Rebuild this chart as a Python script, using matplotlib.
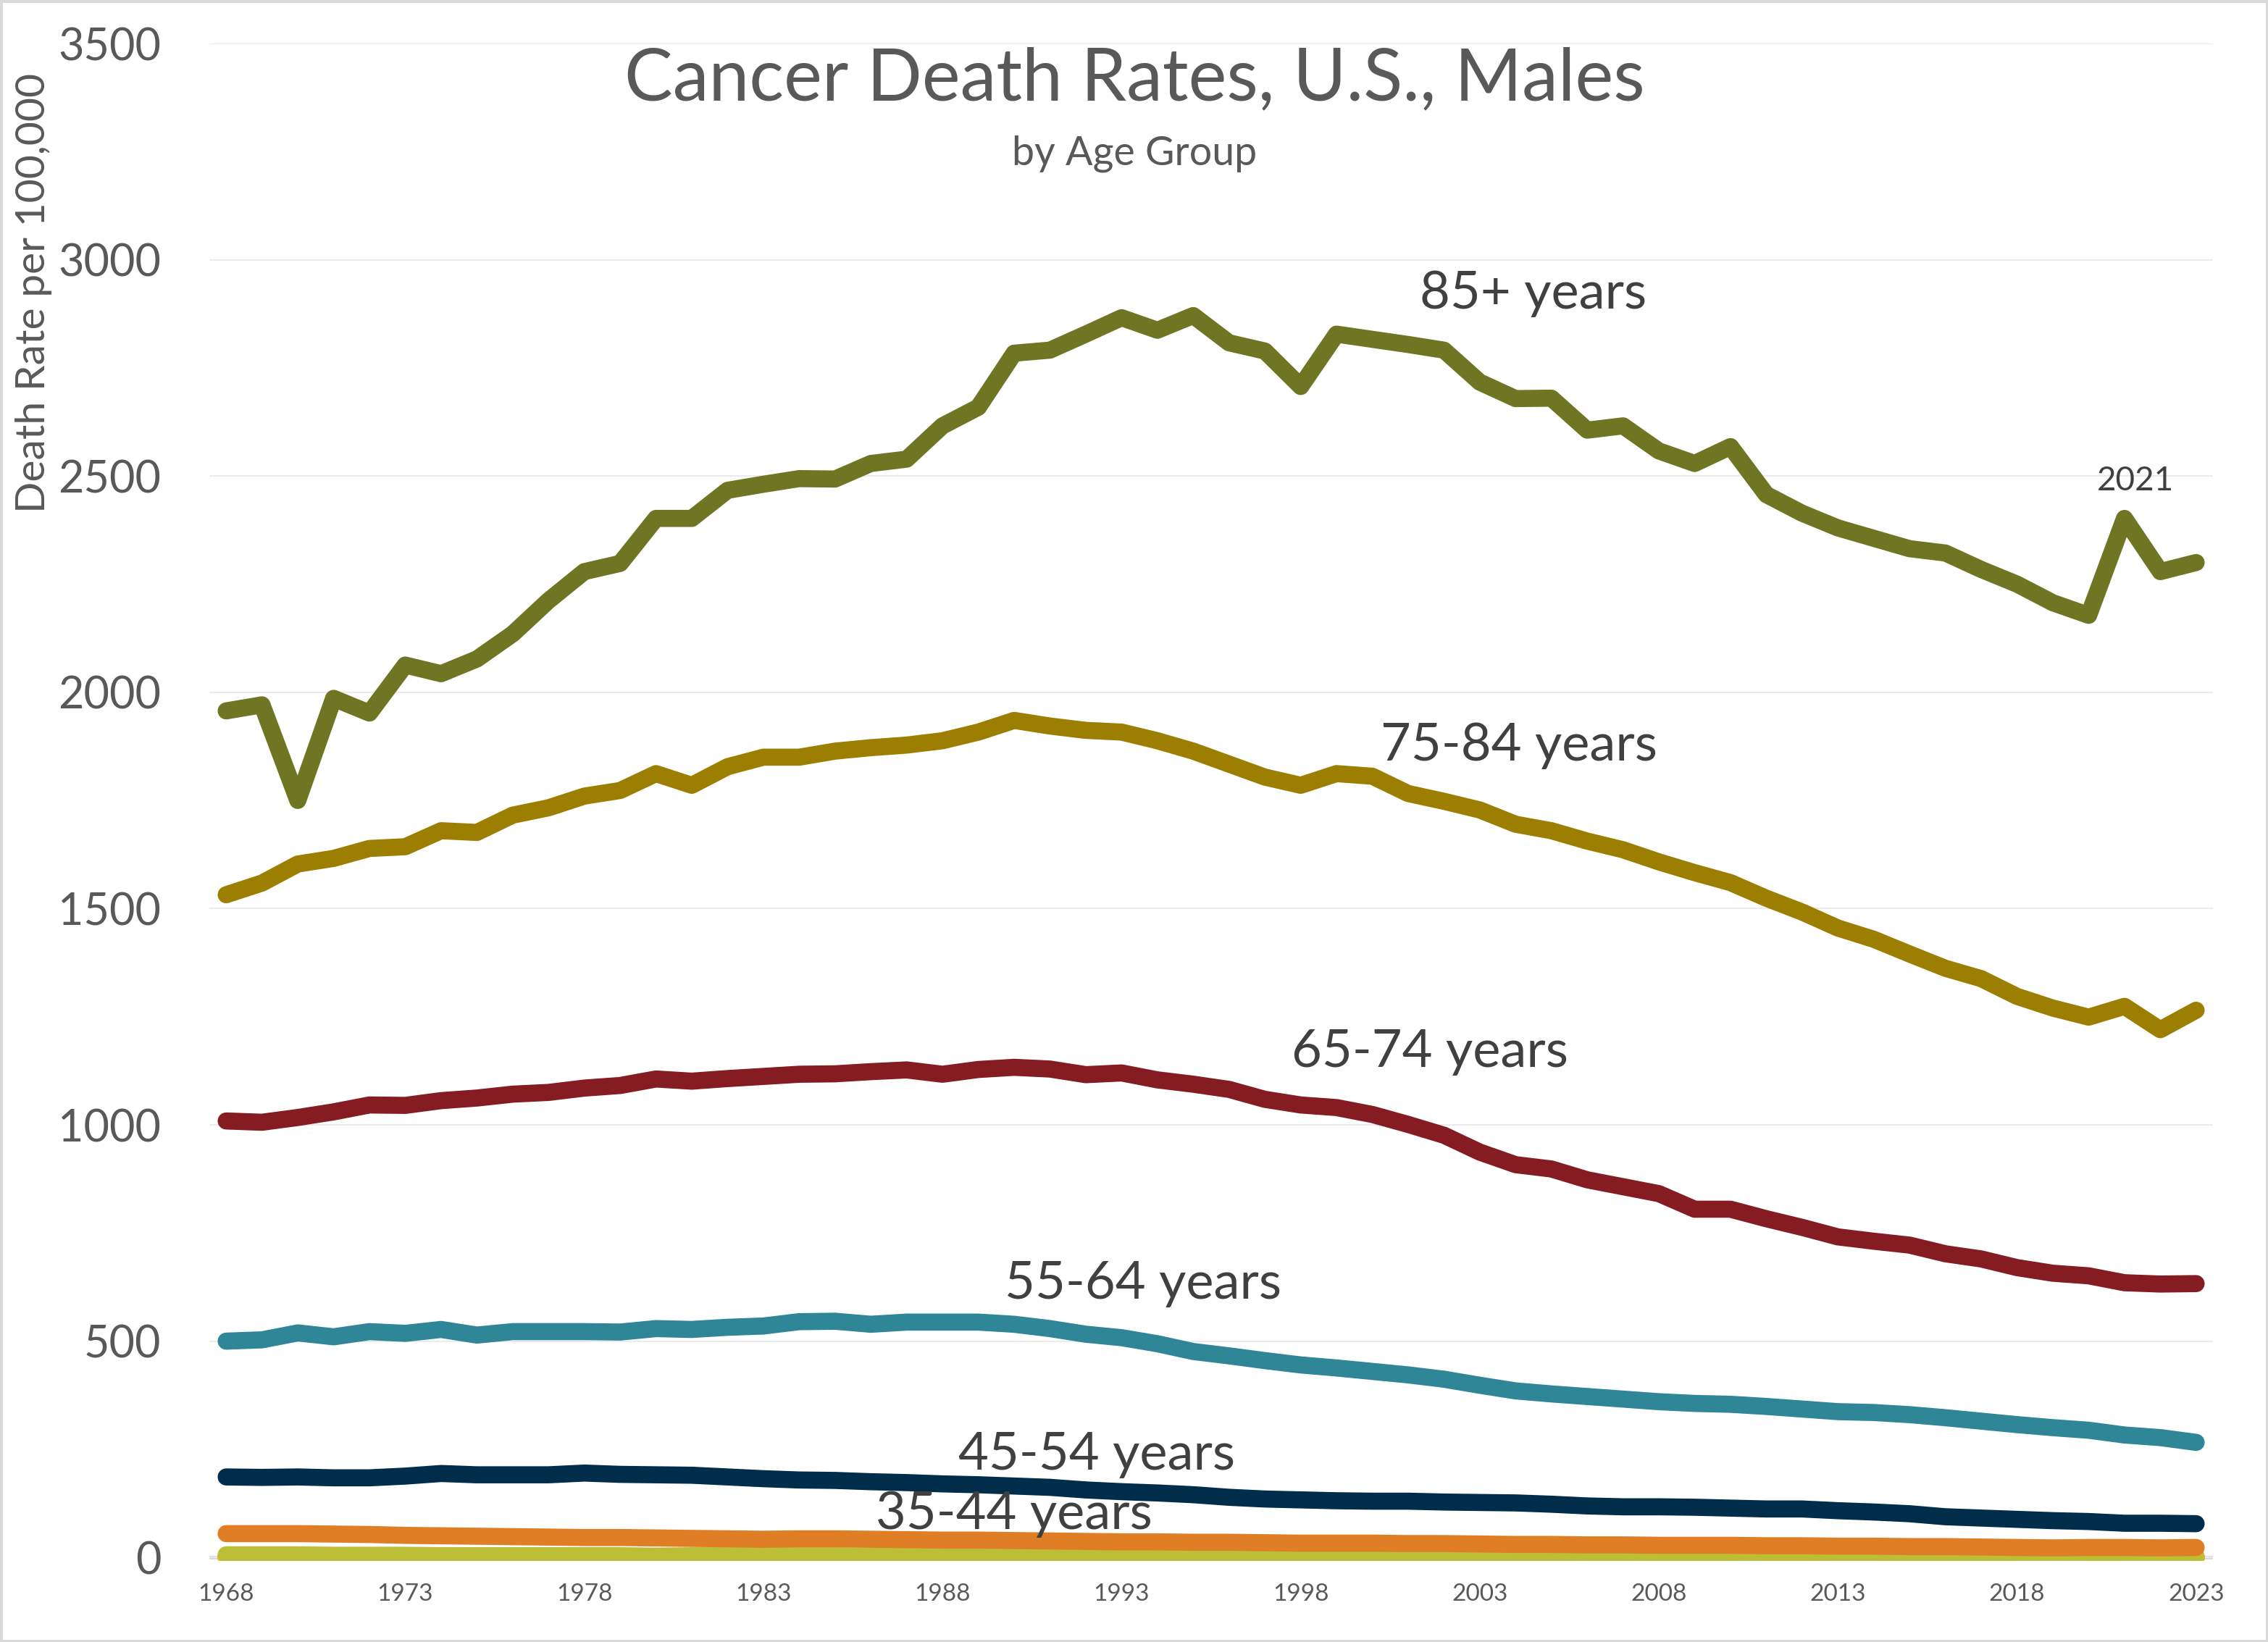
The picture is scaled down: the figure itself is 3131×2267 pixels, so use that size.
import matplotlib
matplotlib.use("Agg")
import matplotlib.pyplot as plt
from matplotlib.patches import Rectangle

plt.rcParams['font.family'] = ['Lato', 'DejaVu Sans']

years = list(range(1968, 2024))

# rates per 100,000
age_85 = [1957, 1971, 1750, 1986, 1952, 2063, 2043, 2077, 2135, 2212,
          2279, 2298, 2402, 2402, 2467, 2481, 2494, 2493, 2529, 2539,
          2616, 2659, 2784, 2791, 2828, 2866, 2837, 2871, 2808, 2789,
          2707, 2828, 2816, 2804, 2791, 2717, 2679, 2680, 2606, 2616,
          2558, 2529, 2568, 2457, 2414, 2380, 2356, 2332, 2322, 2284,
          2250, 2207, 2178, 2402, 2279, 2300]
age_75 = [1532, 1559, 1603, 1616, 1639, 1643, 1680, 1676, 1716, 1733,
          1760, 1773, 1812, 1785, 1828, 1850, 1850, 1864, 1872, 1878,
          1888, 1908, 1935, 1922, 1912, 1908, 1888, 1864, 1834, 1804,
          1785, 1812, 1806, 1766, 1748, 1728, 1695, 1680, 1656, 1636,
          1608, 1583, 1560, 1524, 1492, 1455, 1429, 1395, 1362, 1338,
          1297, 1270, 1249, 1274, 1220, 1265]
age_65 = [1009, 1006, 1017, 1030, 1046, 1045, 1056, 1062, 1071, 1075,
          1085, 1091, 1106, 1101, 1107, 1112, 1117, 1118, 1123, 1127,
          1117, 1128, 1133, 1129, 1116, 1120, 1104, 1094, 1082, 1059,
          1046, 1040, 1024, 1001, 976, 937, 908, 898, 873, 857,
          841, 805, 805, 783, 763, 741, 731, 722, 702, 690,
          670, 657, 651, 635, 632, 633]
age_55 = [500, 503, 519, 510, 522, 518, 527, 514, 522, 522,
          522, 521, 529, 527, 532, 535, 545, 546, 539, 544,
          544, 544, 539, 529, 516, 508, 494, 476, 466, 455,
          445, 438, 430, 422, 412, 398, 385, 378, 372, 366,
          360, 356, 354, 349, 343, 337, 335, 330, 323, 315,
          307, 300, 294, 283, 277, 266]
age_45 = [186, 185, 186, 184, 184, 188, 194, 191, 191, 191,
          195, 192, 191, 190, 186, 182, 179, 178, 175, 173,
          170, 168, 165, 162, 156, 152, 149, 145, 139, 135,
          133, 131, 130, 130, 128, 127, 126, 123, 119, 117,
          117, 116, 114, 112, 112, 108, 105, 101, 94, 91,
          88, 85, 83, 79, 79, 78]
age_35 = [55, 55, 55, 54, 53, 51, 50, 49, 48, 47,
          46, 46, 45, 44, 43, 42, 43, 43, 42, 41,
          40, 40, 39, 38, 37, 36, 36, 35, 35, 34,
          33, 33, 33, 32, 32, 31, 30, 30, 29, 29,
          28, 28, 28, 27, 27, 26, 26, 25, 25, 24,
          23, 22, 23, 23, 22, 23]
age_25 = [6, 6, 6, 5, 5, 5, 4, 4, 4, 4,
          4, 4, 3, 4, 4, 4, 4, 4, 3, 3,
          3, 2, 2, 2, 2, 1, 1, 1, 1, 1,
          1, 1, 1, 1, 1, 1, 1, 1, 1, 1,
          1, 1, 1, 1, 1, 1, 1, 1, 0, 0,
          0, 0, 0, 0, 0, 0]
age_15 = [1] * 56
age_5 = [0] * 56

series = [
    (age_5, '#D9312B', None),
    (age_15, '#FFCC00', None),
    (age_25, '#BCBF35', None),
    (age_35, '#E07E26', '35-44 years'),
    (age_45, '#002D4A', '45-54 years'),
    (age_55, '#2E8697', '55-64 years'),
    (age_65, '#841C21', '65-74 years'),
    (age_75, '#9C7E00', '75-84 years'),
    (age_85, '#6E7623', '85+ years'),
]

label_pos = {
    '85+ years': (2004.5, 2921),
    '75-84 years': (2004.1, 1876),
    '65-74 years': (2001.6, 1169),
    '55-64 years': (1993.6, 633),
    '45-54 years': (1992.3, 238),
    '35-44 years': (1990.0, 100),
}

fig = plt.figure(figsize=(31.31, 22.67), dpi=100)
ax = fig.add_axes([289 / 3131, 1 - 2155 / 2267, (3055 - 289) / 3131, (2155 - 60) / 2267])

for i, (vals, col, lab) in enumerate(series):
    ax.plot(years, vals, color=col, lw=17, solid_capstyle='round',
            solid_joinstyle='round', zorder=3 + i)

for lab, (x, y) in label_pos.items():
    ax.text(x, y, lab, fontsize=52, color='#404040', ha='center', va='center',
            zorder=20)

ax.text(2021.3, 2489, '2021', fontsize=33, color='#404040', ha='center',
        va='center', zorder=20)

ax.set_xlim(1967.53, 2023.47)
ax.set_ylim(-8, 3500)
ax.set_yticks(range(0, 3501, 500))
ax.set_xticks(range(1968, 2024, 5))
ax.tick_params(axis='y', length=0, pad=48, labelsize=44, labelcolor='#595959')
ax.tick_params(axis='x', length=0, pad=22, labelsize=24, labelcolor='#595959')
for s in ax.spines.values():
    s.set_visible(False)
ax.grid(axis='y', color='#EBEBEB', lw=1.5, zorder=0)
ax.axhline(0, color='#D9D9D9', lw=3.5, zorder=1)

fig.text(1566 / 3131, 1 - 110 / 2267, 'Cancer Death Rates, U.S., Males',
         fontsize=72, color='#595959', ha='center', va='center')
fig.text(1566 / 3131, 1 - 212 / 2267, 'by Age Group', fontsize=40,
         color='#595959', ha='center', va='center')
fig.text(47 / 3131, 1 - 404 / 2267, 'Death Rate per 100,000', fontsize=41,
         color='#595959', ha='center', va='center', rotation=90)

fig.add_artist(Rectangle((0, 0), 1, 1, transform=fig.transFigure, fill=False,
                         ec='#D9D9D9', lw=5))

fig.savefig('out.png', dpi=100)
